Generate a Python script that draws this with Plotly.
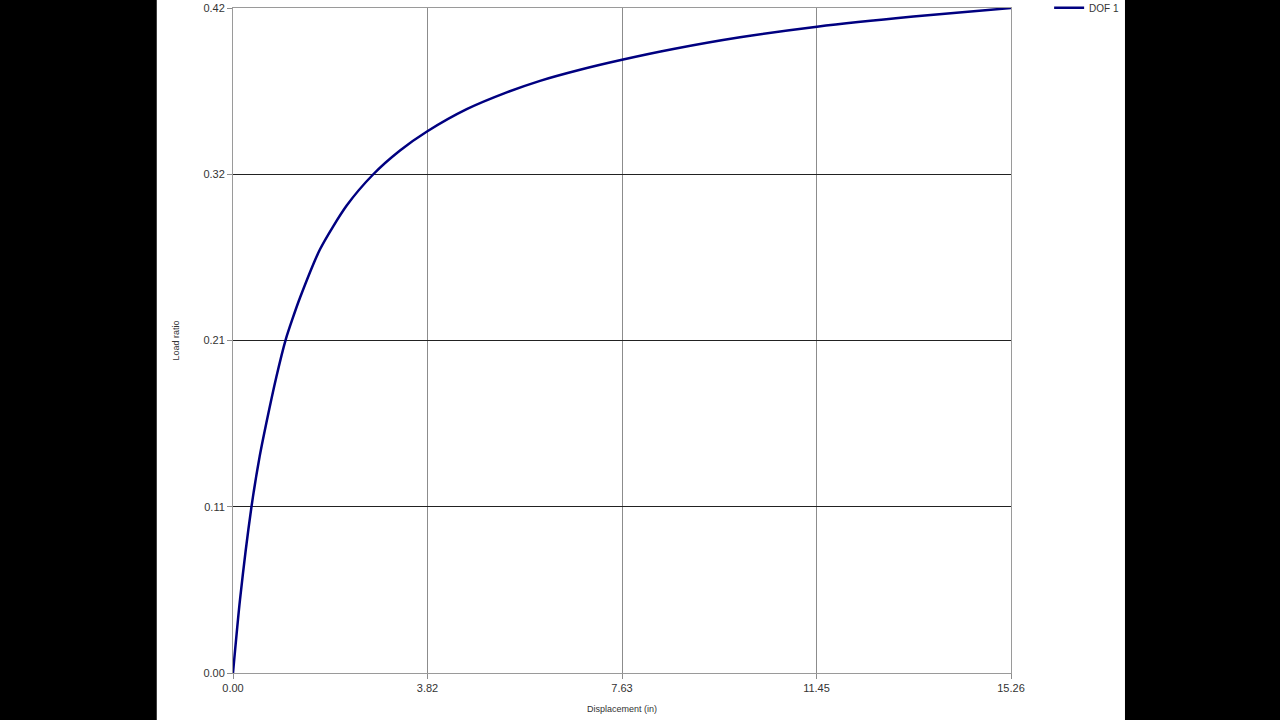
import plotly.graph_objects as go

# values
displacement = [0.0, 0.137, 0.359, 0.523, 0.654, 0.850, 1.034, 1.163, 1.314, 1.707,
                2.230, 2.752, 3.276, 3.805, 4.584, 5.369, 6.022, 6.807, 7.630,
                8.637, 9.945, 11.455, 13.345, 15.26]
load_ratio = [0.0, 0.0462, 0.1042, 0.1368, 0.1579, 0.1870, 0.2106, 0.2233, 0.2370,
              0.2676, 0.2952, 0.3150, 0.3300, 0.3420, 0.3561, 0.3667, 0.3740, 0.3810,
              0.3873, 0.3941, 0.4015, 0.4082, 0.4146, 0.42]

x_ticks = [0.0, 3.815, 7.63, 11.445, 15.26]
x_labels = ['0.00', '3.82', '7.63', '11.45', '15.26']
y_ticks = [0.0, 0.105, 0.21, 0.315, 0.42]
y_labels = ['0.00', '0.11', '0.21', '0.32', '0.42']

fnt = dict(family='Liberation Sans, Arial, sans-serif', size=11, color='#333333')

trace = go.Scatter(x=displacement, y=load_ratio, mode='lines', name='DOF 1',
                   line=dict(color='#000080', width=2.5, shape='spline', smoothing=0.7))

fig = go.Figure(data=[trace])
fig.update_layout(
    width=1280, height=720,
    margin=dict(l=233, r=269, t=8, b=47, pad=0, autoexpand=False),
    paper_bgcolor='black',
    plot_bgcolor='white',
    font=fnt,
    showlegend=True,
    legend=dict(x=1.049, y=1.022, xanchor='left', yanchor='top',
                bgcolor='rgba(0,0,0,0)', font=dict(size=10, color='#333333'),
                itemwidth=30, tracegroupgap=0),
    shapes=[dict(type='rect', xref='paper', yref='paper',
                 x0=-0.098, x1=1.1465, y0=-0.2, y1=1.2,
                 fillcolor='white', line=dict(width=0), layer='below')],
    xaxis=dict(range=[0, 15.26], tickvals=x_ticks, ticktext=x_labels,
               showgrid=True, gridcolor='#8c8c8c', gridwidth=1,
               showline=True, linecolor='#9a9a9a', linewidth=1, mirror=True,
               ticks='outside', ticklen=5, tickcolor='#8c8c8c',
               zeroline=False, tickfont=fnt, automargin=False,
               title=dict(text='Displacement (in)', font=dict(size=9, color='#333333'),
                          standoff=12)),
    yaxis=dict(range=[0, 0.42], tickvals=y_ticks, ticktext=y_labels,
               showgrid=True, gridcolor='#222222', gridwidth=1,
               showline=True, linecolor='#9a9a9a', linewidth=1, mirror=True,
               ticks='outside', ticklen=5, tickcolor='#8c8c8c',
               zeroline=False, tickfont=fnt, automargin=False,
               title=dict(text='Load ratio', font=dict(size=9, color='#333333'),
                          standoff=22)),
)

fig.write_html("out.html", config={'displayModeBar': False},
               post_script="document.body.style.margin='0';")
